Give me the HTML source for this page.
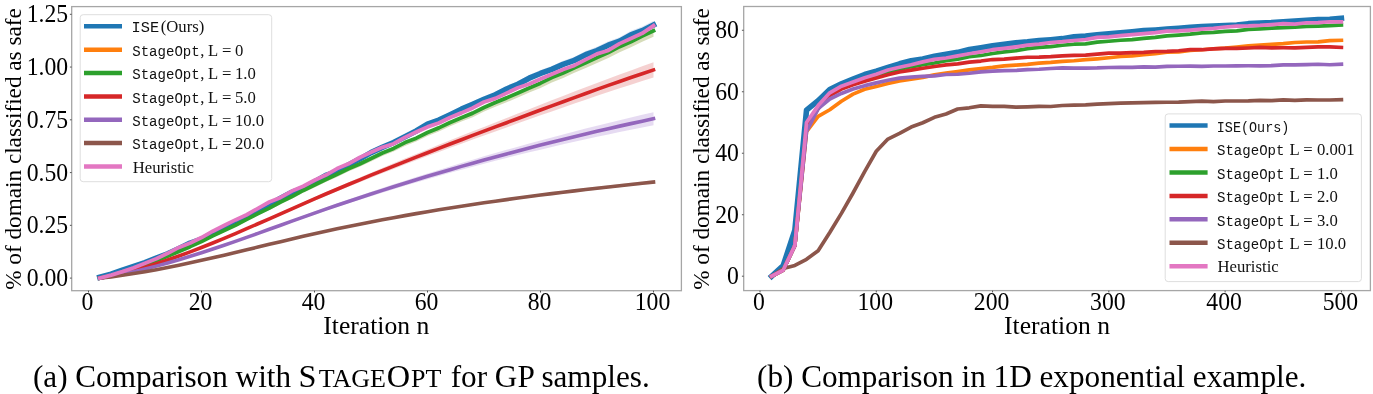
<!DOCTYPE html>
<html><head><meta charset="utf-8"><style>
html,body{margin:0;padding:0;background:#fff;}
body{width:1373px;height:394px;overflow:hidden;}
svg{display:block;will-change:transform;}
.wrap{}
.tk{font-family:"Liberation Serif",serif;font-size:25.2px;fill:#000;}
.al{font-family:"Liberation Serif",serif;font-size:25.6px;fill:#000;}
.yl{font-family:"Liberation Serif",serif;font-size:24px;fill:#000;}
.cap{font-family:"Liberation Serif",serif;font-size:32.3px;fill:#000;}
.mo{font-family:"Liberation Mono",monospace;font-size:15.3px;fill:#111;}
.se{font-family:"Liberation Serif",serif;font-size:16.7px;fill:#111;}

</style></head><body>
<div class="wrap"><svg width="1373" height="394" viewBox="0 0 1373 394">
<rect width="1373" height="394" fill="#fff"/>
<defs>
<clipPath id="cl"><rect x="71.7" y="6.6" width="609.6999999999999" height="284.09999999999997"/></clipPath>
<clipPath id="cr"><rect x="743.7" y="6.5" width="626.7" height="284.1"/></clipPath>
</defs>
<g clip-path="url(#cl)">
<path d="M99.80,278.11 L111.10,275.48 L122.40,272.29 L133.70,268.57 L145.00,265.04 L156.30,260.85 L167.60,256.25 L178.90,251.46 L190.20,246.64 L201.50,241.48 L212.80,235.91 L224.10,230.47 L235.40,225.27 L246.70,219.35 L258.00,213.58 L269.30,208.09 L280.60,202.00 L291.90,196.56 L303.20,190.43 L314.50,185.05 L325.80,179.57 L337.10,174.30 L348.40,168.82 L359.70,163.99 L371.00,158.52 L382.30,152.95 L393.60,148.43 L404.90,142.57 L416.20,138.15 L427.50,132.48 L438.80,127.87 L450.10,122.47 L461.40,117.66 L472.70,113.12 L484.00,107.46 L495.30,102.45 L506.60,97.88 L517.90,92.96 L529.20,87.95 L540.50,83.16 L551.80,77.61 L563.10,72.98 L574.40,67.77 L585.70,62.83 L597.00,57.62 L608.30,52.57 L619.60,46.66 L630.90,41.69 L642.20,36.01 L653.50,30.79 L653.50,36.70 L642.20,41.81 L630.90,47.36 L619.60,52.22 L608.30,58.01 L597.00,62.94 L585.70,68.03 L574.40,72.85 L563.10,77.94 L551.80,82.46 L540.50,87.89 L529.20,92.56 L517.90,97.45 L506.60,102.25 L495.30,106.71 L484.00,111.59 L472.70,117.14 L461.40,121.56 L450.10,126.25 L438.80,131.54 L427.50,136.02 L416.20,141.58 L404.90,145.88 L393.60,151.62 L382.30,156.02 L371.00,161.48 L359.70,166.83 L348.40,171.54 L337.10,176.90 L325.80,182.05 L314.50,187.41 L303.20,192.68 L291.90,198.69 L280.60,204.01 L269.30,209.98 L258.00,215.35 L246.70,221.00 L235.40,226.81 L224.10,231.89 L212.80,237.21 L201.50,242.66 L190.20,247.70 L178.90,252.40 L167.60,257.08 L156.30,261.56 L145.00,265.63 L133.70,269.04 L122.40,272.64 L111.10,275.71 L99.80,278.23 Z" fill="#cfd6ad" opacity="0.85"/>
<path d="M99.80,277.12 L111.10,273.92 L122.40,269.81 L133.70,266.07 L145.00,262.27 L156.30,257.60 L167.60,253.17 L178.90,247.87 L190.20,242.29 L201.50,238.31 L212.80,232.41 L224.10,227.41 L235.40,221.31 L246.70,216.15 L258.00,209.75 L269.30,203.50 L280.60,196.82 L291.90,190.73 L303.20,186.43 L314.50,180.32 L325.80,173.70 L337.10,169.76 L348.40,163.08 L359.70,157.06 L371.00,150.48 L382.30,145.17 L393.60,140.21 L404.90,134.50 L416.20,128.54 L427.50,121.59 L438.80,117.47 L450.10,112.09 L461.40,106.40 L472.70,101.46 L484.00,96.31 L495.30,91.71 L506.60,85.86 L517.90,81.01 L529.20,74.89 L540.50,70.11 L551.80,65.92 L563.10,60.83 L574.40,56.74 L585.70,51.04 L597.00,46.77 L608.30,41.33 L619.60,37.29 L630.90,30.83 L642.20,26.50 L653.50,20.87 L653.50,27.20 L642.20,32.70 L630.90,36.91 L619.60,43.24 L608.30,47.15 L597.00,52.47 L585.70,56.61 L574.40,62.18 L563.10,66.14 L551.80,71.12 L540.50,75.18 L529.20,79.83 L517.90,85.83 L506.60,90.55 L495.30,96.27 L484.00,100.74 L472.70,105.77 L461.40,110.58 L450.10,116.14 L438.80,121.40 L427.50,125.39 L416.20,132.22 L404.90,138.04 L393.60,143.63 L382.30,148.47 L371.00,153.64 L359.70,160.10 L348.40,166.00 L337.10,172.54 L325.80,176.36 L314.50,182.85 L303.20,188.84 L291.90,193.01 L280.60,198.98 L269.30,205.53 L258.00,211.65 L246.70,217.92 L235.40,222.96 L224.10,228.93 L212.80,233.81 L201.50,239.58 L190.20,243.43 L178.90,248.88 L167.60,254.05 L156.30,258.36 L145.00,262.90 L133.70,266.58 L122.40,270.19 L111.10,274.17 L99.80,277.25 Z" fill="#c9d6ee" opacity="0.6"/>
<path d="M99.80,278.09 L111.10,275.84 L122.40,273.22 L133.70,270.27 L145.00,267.01 L156.30,263.46 L167.60,259.66 L178.90,255.62 L190.20,251.36 L201.50,246.92 L212.80,242.31 L224.10,237.56 L235.40,232.68 L246.70,227.71 L258.00,222.67 L269.30,217.57 L280.60,212.45 L291.90,207.32 L303.20,202.21 L314.50,197.14 L325.80,192.13 L337.10,187.18 L348.40,182.29 L359.70,177.45 L371.00,172.66 L382.30,167.92 L393.60,163.23 L404.90,158.58 L416.20,153.96 L427.50,149.38 L438.80,144.83 L450.10,140.31 L461.40,135.81 L472.70,131.34 L484.00,126.88 L495.30,122.43 L506.60,118.00 L517.90,113.57 L529.20,109.15 L540.50,104.74 L551.80,100.34 L563.10,95.96 L574.40,91.61 L585.70,87.29 L597.00,83.01 L608.30,78.77 L619.60,74.58 L630.90,70.45 L642.20,66.37 L653.50,62.37 L653.50,77.56 L642.20,81.08 L630.90,84.68 L619.60,88.34 L608.30,92.07 L597.00,95.85 L585.70,99.67 L574.40,103.55 L563.10,107.46 L551.80,111.40 L540.50,115.37 L529.20,119.36 L517.90,123.37 L506.60,127.39 L495.30,131.42 L484.00,135.47 L472.70,139.54 L461.40,143.63 L450.10,147.75 L438.80,151.90 L427.50,156.09 L416.20,160.32 L404.90,164.59 L393.60,168.90 L382.30,173.26 L371.00,177.68 L359.70,182.14 L348.40,186.67 L337.10,191.26 L325.80,195.92 L314.50,200.64 L303.20,205.44 L291.90,210.28 L280.60,215.15 L269.30,220.02 L258.00,224.88 L246.70,229.69 L235.40,234.44 L224.10,239.11 L212.80,243.66 L201.50,248.08 L190.20,252.34 L178.90,256.43 L167.60,260.31 L156.30,263.97 L145.00,267.39 L133.70,270.53 L122.40,273.39 L111.10,275.93 L99.80,278.11 Z" fill="#f3c6c6" opacity="0.8"/>
<path d="M99.80,278.09 L111.10,276.25 L122.40,274.04 L133.70,271.57 L145.00,268.85 L156.30,265.91 L167.60,262.76 L178.90,259.42 L190.20,255.91 L201.50,252.26 L212.80,248.47 L224.10,244.57 L235.40,240.58 L246.70,236.51 L258.00,232.39 L269.30,228.23 L280.60,224.06 L291.90,219.88 L303.20,215.72 L314.50,211.61 L325.80,207.54 L337.10,203.53 L348.40,199.58 L359.70,195.69 L371.00,191.84 L382.30,188.06 L393.60,184.32 L404.90,180.64 L416.20,177.02 L427.50,173.44 L438.80,169.92 L450.10,166.45 L461.40,163.03 L472.70,159.66 L484.00,156.34 L495.30,153.07 L506.60,149.85 L517.90,146.68 L529.20,143.55 L540.50,140.47 L551.80,137.44 L563.10,134.46 L574.40,131.52 L585.70,128.62 L597.00,125.77 L608.30,122.97 L619.60,120.21 L630.90,117.49 L642.20,114.81 L653.50,112.18 L653.50,125.26 L642.20,127.48 L630.90,129.75 L619.60,132.06 L608.30,134.42 L597.00,136.83 L585.70,139.29 L574.40,141.80 L563.10,144.36 L551.80,146.97 L540.50,149.63 L529.20,152.34 L517.90,155.11 L506.60,157.93 L495.30,160.81 L484.00,163.73 L472.70,166.72 L461.40,169.76 L450.10,172.86 L438.80,176.01 L427.50,179.22 L416.20,182.49 L404.90,185.82 L393.60,189.21 L382.30,192.65 L371.00,196.16 L359.70,199.73 L348.40,203.36 L337.10,207.05 L325.80,210.81 L314.50,214.63 L303.20,218.51 L291.90,222.43 L280.60,226.39 L269.30,230.35 L258.00,234.30 L246.70,238.22 L235.40,242.10 L224.10,245.91 L212.80,249.63 L201.50,253.25 L190.20,256.75 L178.90,260.12 L167.60,263.32 L156.30,266.35 L145.00,269.18 L133.70,271.80 L122.40,274.18 L111.10,276.32 L99.80,278.11 Z" fill="#e3d7f1" opacity="0.9"/>
<path d="M99.80,278.07 L111.10,276.78 L122.40,275.21 L133.70,273.45 L145.00,271.53 L156.30,269.46 L167.60,267.26 L178.90,264.93 L190.20,262.50 L201.50,259.98 L212.80,257.38 L224.10,254.73 L235.40,252.02 L246.70,249.29 L258.00,246.54 L269.30,243.79 L280.60,241.05 L291.90,238.35 L303.20,235.68 L314.50,233.07 L325.80,230.54 L337.10,228.07 L348.40,225.68 L359.70,223.35 L371.00,221.09 L382.30,218.89 L393.60,216.75 L404.90,214.67 L416.20,212.65 L427.50,210.69 L438.80,208.78 L450.10,206.93 L461.40,205.12 L472.70,203.36 L484.00,201.65 L495.30,199.99 L506.60,198.37 L517.90,196.79 L529.20,195.25 L540.50,193.74 L551.80,192.27 L563.10,190.84 L574.40,189.44 L585.70,188.06 L597.00,186.72 L608.30,185.40 L619.60,184.11 L630.90,182.84 L642.20,181.59 L653.50,180.36 L653.50,183.73 L642.20,184.90 L630.90,186.08 L619.60,187.28 L608.30,188.51 L597.00,189.76 L585.70,191.04 L574.40,192.34 L563.10,193.68 L551.80,195.04 L540.50,196.44 L529.20,197.88 L517.90,199.35 L506.60,200.87 L495.30,202.42 L484.00,204.02 L472.70,205.66 L461.40,207.35 L450.10,209.09 L438.80,210.88 L427.50,212.72 L416.20,214.61 L404.90,216.56 L393.60,218.57 L382.30,220.64 L371.00,222.77 L359.70,224.97 L348.40,227.23 L337.10,229.56 L325.80,231.96 L314.50,234.43 L303.20,236.96 L291.90,239.56 L280.60,242.20 L269.30,244.87 L258.00,247.55 L246.70,250.24 L235.40,252.90 L224.10,255.54 L212.80,258.13 L201.50,260.66 L190.20,263.11 L178.90,265.47 L167.60,267.73 L156.30,269.87 L145.00,271.87 L133.70,273.72 L122.40,275.41 L111.10,276.92 L99.80,278.13 Z" fill="#e8d9d6" opacity="0.8"/>
<path d="M99.80,277.21 L111.10,274.09 L122.40,270.06 L133.70,266.41 L145.00,262.69 L156.30,258.11 L167.60,253.76 L178.90,248.54 L190.20,243.05 L201.50,239.15 L212.80,233.34 L224.10,228.42 L235.40,222.41 L246.70,217.33 L258.00,211.02 L269.30,204.85 L280.60,198.26 L291.90,192.25 L303.20,188.03 L314.50,182.00 L325.80,175.48 L337.10,171.61 L348.40,165.03 L359.70,159.09 L371.00,152.59 L382.30,147.37 L393.60,142.49 L404.90,136.86 L416.20,130.99 L427.50,124.12 L438.80,120.09 L450.10,114.79 L461.40,109.19 L472.70,104.33 L484.00,99.26 L495.30,94.75 L506.60,88.99 L517.90,84.22 L529.20,78.18 L540.50,73.49 L551.80,69.39 L563.10,64.37 L574.40,60.37 L585.70,54.75 L597.00,50.57 L608.30,45.21 L619.60,41.25 L630.90,34.89 L642.20,30.64 L653.50,25.09" fill="none" stroke="#1f77b4" stroke-width="5.6" stroke-linecap="square" stroke-linejoin="round"/>
<path d="M99.80,278.11 L111.10,275.48 L122.40,272.29 L133.70,268.57 L145.00,265.04 L156.30,260.85 L167.60,256.25 L178.90,251.46 L190.20,246.64 L201.50,241.48 L212.80,235.91 L224.10,230.47 L235.40,225.27 L246.70,219.35 L258.00,213.58 L269.30,208.09 L280.60,202.00 L291.90,196.56 L303.20,190.43 L314.50,185.05 L325.80,179.57 L337.10,174.30 L348.40,168.82 L359.70,163.99 L371.00,158.52 L382.30,152.95 L393.60,148.43 L404.90,142.57 L416.20,138.15 L427.50,132.48 L438.80,127.87 L450.10,122.47 L461.40,117.66 L472.70,113.12 L484.00,107.46 L495.30,102.45 L506.60,97.88 L517.90,92.96 L529.20,87.95 L540.50,83.16 L551.80,77.61 L563.10,72.98 L574.40,67.77 L585.70,62.83 L597.00,57.62 L608.30,52.57 L619.60,46.66 L630.90,41.69 L642.20,36.01 L653.50,30.79" fill="none" stroke="#2ca02c" stroke-width="3.8" stroke-linecap="square" stroke-linejoin="round"/>
<path d="M99.80,278.10 L111.10,275.89 L122.40,273.31 L133.70,270.40 L145.00,267.20 L156.30,263.72 L167.60,259.98 L178.90,256.02 L190.20,251.85 L201.50,247.50 L212.80,242.98 L224.10,238.33 L235.40,233.56 L246.70,228.70 L258.00,223.77 L269.30,218.80 L280.60,213.80 L291.90,208.80 L303.20,203.82 L314.50,198.89 L325.80,194.02 L337.10,189.22 L348.40,184.48 L359.70,179.80 L371.00,175.17 L382.30,170.59 L393.60,166.07 L404.90,161.58 L416.20,157.14 L427.50,152.74 L438.80,148.37 L450.10,144.03 L461.40,139.72 L472.70,135.44 L484.00,131.17 L495.30,126.93 L506.60,122.69 L517.90,118.47 L529.20,114.26 L540.50,110.06 L551.80,105.87 L563.10,101.71 L574.40,97.58 L585.70,93.48 L597.00,89.43 L608.30,85.42 L619.60,81.46 L630.90,77.56 L642.20,73.73 L653.50,69.97" fill="none" stroke="#d62728" stroke-width="3.6" stroke-linecap="square" stroke-linejoin="round"/>
<path d="M99.80,278.10 L111.10,276.29 L122.40,274.11 L133.70,271.68 L145.00,269.01 L156.30,266.13 L167.60,263.04 L178.90,259.77 L190.20,256.33 L201.50,252.75 L212.80,249.05 L224.10,245.24 L235.40,241.34 L246.70,237.37 L258.00,233.35 L269.30,229.29 L280.60,225.22 L291.90,221.16 L303.20,217.12 L314.50,213.12 L325.80,209.17 L337.10,205.29 L348.40,201.47 L359.70,197.71 L371.00,194.00 L382.30,190.35 L393.60,186.76 L404.90,183.23 L416.20,179.75 L427.50,176.33 L438.80,172.97 L450.10,169.65 L461.40,166.39 L472.70,163.19 L484.00,160.04 L495.30,156.94 L506.60,153.89 L517.90,150.89 L529.20,147.95 L540.50,145.05 L551.80,142.20 L563.10,139.41 L574.40,136.66 L585.70,133.96 L597.00,131.30 L608.30,128.69 L619.60,126.13 L630.90,123.62 L642.20,121.15 L653.50,118.72" fill="none" stroke="#9467bd" stroke-width="3.6" stroke-linecap="square" stroke-linejoin="round"/>
<path d="M99.80,278.10 L111.10,276.85 L122.40,275.31 L133.70,273.59 L145.00,271.70 L156.30,269.66 L167.60,267.49 L178.90,265.20 L190.20,262.80 L201.50,260.32 L212.80,257.76 L224.10,255.13 L235.40,252.46 L246.70,249.76 L258.00,247.05 L269.30,244.33 L280.60,241.63 L291.90,238.95 L303.20,236.32 L314.50,233.75 L325.80,231.25 L337.10,228.82 L348.40,226.45 L359.70,224.16 L371.00,221.93 L382.30,219.76 L393.60,217.66 L404.90,215.62 L416.20,213.63 L427.50,211.70 L438.80,209.83 L450.10,208.01 L461.40,206.23 L472.70,204.51 L484.00,202.84 L495.30,201.20 L506.60,199.62 L517.90,198.07 L529.20,196.56 L540.50,195.09 L551.80,193.66 L563.10,192.26 L574.40,190.89 L585.70,189.55 L597.00,188.24 L608.30,186.96 L619.60,185.70 L630.90,184.46 L642.20,183.24 L653.50,182.04" fill="none" stroke="#8c564b" stroke-width="3.6" stroke-linecap="square" stroke-linejoin="round"/>
<path d="M99.80,278.10 L111.10,275.06 L122.40,271.61 L133.70,267.77 L145.00,263.27 L156.30,258.74 L167.60,253.31 L178.90,247.42 L190.20,242.98 L201.50,237.56 L212.80,231.21 L224.10,225.56 L235.40,219.92 L246.70,214.73 L258.00,208.30 L269.30,201.98 L280.60,197.43 L291.90,191.08 L303.20,186.28 L314.50,180.26 L325.80,175.06 L337.10,168.57 L348.40,163.83 L359.70,157.52 L371.00,152.34 L382.30,147.35 L393.60,143.69 L404.90,137.35 L416.20,132.00 L427.50,126.91 L438.80,123.01 L450.10,117.43 L461.40,112.88 L472.70,107.93 L484.00,101.95 L495.30,98.35 L506.60,93.12 L517.90,87.81 L529.20,84.04 L540.50,79.04 L551.80,74.18 L563.10,69.44 L574.40,65.42 L585.70,59.67 L597.00,53.82 L608.30,50.49 L619.60,43.63 L630.90,38.58 L642.20,33.33 L653.50,25.70" fill="none" stroke="#e377c2" stroke-width="3.8" stroke-linecap="square" stroke-linejoin="round"/>
</g>
<g clip-path="url(#cr)">
<path d="M771.63,276.20 L783.26,265.44 L794.88,230.09 L806.51,110.20 L818.14,100.67 L829.77,89.45 L841.40,83.81 L853.02,79.13 L864.65,74.56 L876.28,71.21 L887.91,67.50 L899.54,63.82 L911.16,60.76 L922.79,58.94 L934.42,56.31 L946.05,54.21 L957.68,52.35 L969.30,49.59 L980.93,47.68 L992.56,45.76 L1004.19,44.38 L1015.82,42.75 L1027.44,41.81 L1039.07,40.61 L1050.70,39.75 L1062.33,38.65 L1073.96,36.84 L1085.58,36.10 L1097.21,34.73 L1108.84,33.67 L1120.47,32.71 L1132.10,31.76 L1143.72,30.57 L1155.35,29.94 L1166.98,29.09 L1178.61,28.25 L1190.24,27.21 L1201.86,26.59 L1213.49,25.94 L1225.12,25.45 L1236.75,24.94 L1248.38,23.66 L1260.00,22.95 L1271.63,22.53 L1283.26,21.68 L1294.89,20.95 L1306.52,20.29 L1318.14,19.62 L1329.77,19.33 L1341.40,18.23" fill="none" stroke="#1f77b4" stroke-width="5.6" stroke-linecap="square" stroke-linejoin="round"/>
<path d="M771.63,276.20 L783.26,270.05 L794.88,245.46 L806.51,131.72 L818.14,116.35 L829.77,109.74 L841.40,101.26 L853.02,94.13 L864.65,89.20 L876.28,86.46 L887.91,83.50 L899.54,80.89 L911.16,79.29 L922.79,77.36 L934.42,74.88 L946.05,73.16 L957.68,71.55 L969.30,69.88 L980.93,68.58 L992.56,67.38 L1004.19,65.90 L1015.82,65.11 L1027.44,64.41 L1039.07,63.06 L1050.70,62.36 L1062.33,61.35 L1073.96,60.74 L1085.58,59.69 L1097.21,58.79 L1108.84,57.77 L1120.47,56.52 L1132.10,55.79 L1143.72,54.54 L1155.35,53.56 L1166.98,52.16 L1178.61,52.01 L1190.24,50.47 L1201.86,49.73 L1213.49,48.76 L1225.12,48.18 L1236.75,47.03 L1248.38,45.86 L1260.00,45.22 L1271.63,44.35 L1283.26,43.63 L1294.89,42.49 L1306.52,42.01 L1318.14,41.79 L1329.77,40.69 L1341.40,40.29" fill="none" stroke="#ff7f0e" stroke-width="3.7" stroke-linecap="square" stroke-linejoin="round"/>
<path d="M771.63,276.20 L783.26,270.05 L794.88,245.46 L806.51,125.57 L818.14,107.13 L829.77,94.37 L841.40,87.73 L853.02,83.44 L864.65,79.57 L876.28,75.77 L887.91,72.34 L899.54,69.23 L911.16,66.81 L922.79,64.69 L934.42,62.99 L946.05,60.70 L957.68,59.11 L969.30,56.76 L980.93,55.49 L992.56,53.47 L1004.19,51.87 L1015.82,50.75 L1027.44,48.65 L1039.07,47.44 L1050.70,46.70 L1062.33,45.23 L1073.96,44.22 L1085.58,43.91 L1097.21,42.19 L1108.84,41.28 L1120.47,40.27 L1132.10,39.57 L1143.72,38.36 L1155.35,37.31 L1166.98,35.93 L1178.61,35.11 L1190.24,34.18 L1201.86,32.82 L1213.49,32.38 L1225.12,31.44 L1236.75,30.95 L1248.38,29.35 L1260.00,28.79 L1271.63,28.13 L1283.26,27.54 L1294.89,27.07 L1306.52,26.47 L1318.14,26.05 L1329.77,25.55 L1341.40,25.04" fill="none" stroke="#2ca02c" stroke-width="3.7" stroke-linecap="square" stroke-linejoin="round"/>
<path d="M771.63,276.20 L783.26,270.05 L794.88,245.46 L806.51,128.65 L818.14,108.67 L829.77,95.60 L841.40,89.14 L853.02,84.78 L864.65,81.20 L876.28,77.93 L887.91,74.69 L899.54,71.96 L911.16,70.15 L922.79,68.21 L934.42,66.50 L946.05,64.86 L957.68,63.84 L969.30,62.15 L980.93,61.04 L992.56,59.53 L1004.19,59.09 L1015.82,58.06 L1027.44,57.24 L1039.07,57.15 L1050.70,56.70 L1062.33,55.94 L1073.96,55.40 L1085.58,55.06 L1097.21,54.13 L1108.84,53.18 L1120.47,53.20 L1132.10,52.67 L1143.72,52.35 L1155.35,51.48 L1166.98,51.33 L1178.61,50.76 L1190.24,49.66 L1201.86,49.72 L1213.49,48.79 L1225.12,48.30 L1236.75,48.30 L1248.38,47.99 L1260.00,47.47 L1271.63,47.83 L1283.26,47.76 L1294.89,47.81 L1306.52,47.35 L1318.14,46.90 L1329.77,46.97 L1341.40,47.42" fill="none" stroke="#d62728" stroke-width="3.7" stroke-linecap="square" stroke-linejoin="round"/>
<path d="M771.63,276.20 L783.26,270.05 L794.88,245.46 L806.51,131.72 L818.14,108.67 L829.77,98.96 L841.40,93.40 L853.02,89.08 L864.65,85.65 L876.28,82.84 L887.91,80.27 L899.54,78.14 L911.16,77.18 L922.79,76.28 L934.42,75.83 L946.05,74.51 L957.68,74.27 L969.30,73.27 L980.93,71.85 L992.56,71.11 L1004.19,70.68 L1015.82,70.48 L1027.44,69.62 L1039.07,69.23 L1050.70,68.50 L1062.33,67.79 L1073.96,68.03 L1085.58,68.05 L1097.21,67.95 L1108.84,67.49 L1120.47,67.35 L1132.10,67.42 L1143.72,66.94 L1155.35,67.10 L1166.98,66.39 L1178.61,66.26 L1190.24,66.12 L1201.86,66.36 L1213.49,65.98 L1225.12,66.00 L1236.75,65.91 L1248.38,65.73 L1260.00,65.79 L1271.63,65.65 L1283.26,64.91 L1294.89,64.96 L1306.52,64.66 L1318.14,64.27 L1329.77,64.73 L1341.40,64.29" fill="none" stroke="#9467bd" stroke-width="3.7" stroke-linecap="square" stroke-linejoin="round"/>
<path d="M771.63,276.20 L783.26,268.51 L794.88,265.44 L806.51,259.29 L818.14,250.69 L829.77,232.55 L841.40,213.41 L853.02,193.00 L864.65,171.57 L876.28,151.25 L887.91,139.08 L899.54,133.42 L911.16,127.09 L922.79,122.79 L934.42,117.35 L946.05,113.93 L957.68,108.97 L969.30,107.79 L980.93,105.82 L992.56,106.37 L1004.19,106.41 L1015.82,107.20 L1027.44,106.88 L1039.07,106.33 L1050.70,106.52 L1062.33,105.48 L1073.96,105.12 L1085.58,104.89 L1097.21,104.19 L1108.84,103.65 L1120.47,103.11 L1132.10,102.90 L1143.72,102.70 L1155.35,102.32 L1166.98,102.26 L1178.61,102.10 L1190.24,101.58 L1201.86,101.15 L1213.49,101.56 L1225.12,101.01 L1236.75,101.00 L1248.38,100.93 L1260.00,100.33 L1271.63,100.53 L1283.26,99.90 L1294.89,100.34 L1306.52,99.94 L1318.14,99.99 L1329.77,100.02 L1341.40,99.61" fill="none" stroke="#8c564b" stroke-width="3.7" stroke-linecap="square" stroke-linejoin="round"/>
<path d="M771.63,276.20 L783.26,270.05 L794.88,245.46 L806.51,122.50 L818.14,105.59 L829.77,92.84 L841.40,86.15 L853.02,81.99 L864.65,77.75 L876.28,74.15 L887.91,69.95 L899.54,67.24 L911.16,64.74 L922.79,61.91 L934.42,59.42 L946.05,57.99 L957.68,55.85 L969.30,53.74 L980.93,51.89 L992.56,49.70 L1004.19,48.35 L1015.82,46.83 L1027.44,45.11 L1039.07,44.11 L1050.70,42.54 L1062.33,41.65 L1073.96,40.49 L1085.58,39.47 L1097.21,37.42 L1108.84,36.85 L1120.47,35.65 L1132.10,34.70 L1143.72,33.64 L1155.35,32.66 L1166.98,31.21 L1178.61,30.96 L1190.24,30.14 L1201.86,29.10 L1213.49,28.31 L1225.12,26.99 L1236.75,26.22 L1248.38,25.97 L1260.00,25.45 L1271.63,24.59 L1283.26,23.59 L1294.89,24.09 L1306.52,22.77 L1318.14,22.71 L1329.77,21.78 L1341.40,21.94" fill="none" stroke="#e377c2" stroke-width="3.7" stroke-linecap="square" stroke-linejoin="round"/>
</g>
<rect x="71.7" y="6.6" width="609.6999999999999" height="284.09999999999997" fill="none" stroke="#a6a6a6" stroke-width="1.3"/>
<rect x="743.7" y="6.5" width="626.7" height="284.1" fill="none" stroke="#a6a6a6" stroke-width="1.3"/>
<line x1="69.9" y1="278.10" x2="71.7" y2="278.10" stroke="#555" stroke-width="1"/>
<text transform="translate(68.2,286.20) scale(0.94,1)" text-anchor="end" class="tk">0.00</text>
<line x1="69.9" y1="225.34" x2="71.7" y2="225.34" stroke="#555" stroke-width="1"/>
<text transform="translate(68.2,233.44) scale(0.94,1)" text-anchor="end" class="tk">0.25</text>
<line x1="69.9" y1="172.58" x2="71.7" y2="172.58" stroke="#555" stroke-width="1"/>
<text transform="translate(68.2,180.68) scale(0.94,1)" text-anchor="end" class="tk">0.50</text>
<line x1="69.9" y1="119.82" x2="71.7" y2="119.82" stroke="#555" stroke-width="1"/>
<text transform="translate(68.2,127.92) scale(0.94,1)" text-anchor="end" class="tk">0.75</text>
<line x1="69.9" y1="67.06" x2="71.7" y2="67.06" stroke="#555" stroke-width="1"/>
<text transform="translate(68.2,75.16) scale(0.94,1)" text-anchor="end" class="tk">1.00</text>
<line x1="69.9" y1="14.30" x2="71.7" y2="14.30" stroke="#555" stroke-width="1"/>
<text transform="translate(68.2,22.40) scale(0.94,1)" text-anchor="end" class="tk">1.25</text>
<line x1="88.50" y1="290.7" x2="88.50" y2="292.5" stroke="#555" stroke-width="1"/>
<text transform="translate(87.50,309.9) scale(0.94,1)" text-anchor="middle" class="tk">0</text>
<line x1="201.50" y1="290.7" x2="201.50" y2="292.5" stroke="#555" stroke-width="1"/>
<text transform="translate(200.50,309.9) scale(0.94,1)" text-anchor="middle" class="tk">20</text>
<line x1="314.50" y1="290.7" x2="314.50" y2="292.5" stroke="#555" stroke-width="1"/>
<text transform="translate(313.50,309.9) scale(0.94,1)" text-anchor="middle" class="tk">40</text>
<line x1="427.50" y1="290.7" x2="427.50" y2="292.5" stroke="#555" stroke-width="1"/>
<text transform="translate(426.50,309.9) scale(0.94,1)" text-anchor="middle" class="tk">60</text>
<line x1="540.50" y1="290.7" x2="540.50" y2="292.5" stroke="#555" stroke-width="1"/>
<text transform="translate(539.50,309.9) scale(0.94,1)" text-anchor="middle" class="tk">80</text>
<line x1="653.50" y1="290.7" x2="653.50" y2="292.5" stroke="#555" stroke-width="1"/>
<text transform="translate(652.50,309.9) scale(0.94,1)" text-anchor="middle" class="tk">100</text>
<line x1="741.9000000000001" y1="276.20" x2="743.7" y2="276.20" stroke="#555" stroke-width="1"/>
<text transform="translate(738.8,284.30) scale(0.94,1)" text-anchor="end" class="tk">0</text>
<line x1="741.9000000000001" y1="214.72" x2="743.7" y2="214.72" stroke="#555" stroke-width="1"/>
<text transform="translate(738.8,222.82) scale(0.94,1)" text-anchor="end" class="tk">20</text>
<line x1="741.9000000000001" y1="153.24" x2="743.7" y2="153.24" stroke="#555" stroke-width="1"/>
<text transform="translate(738.8,161.34) scale(0.94,1)" text-anchor="end" class="tk">40</text>
<line x1="741.9000000000001" y1="91.76" x2="743.7" y2="91.76" stroke="#555" stroke-width="1"/>
<text transform="translate(738.8,99.86) scale(0.94,1)" text-anchor="end" class="tk">60</text>
<line x1="741.9000000000001" y1="30.28" x2="743.7" y2="30.28" stroke="#555" stroke-width="1"/>
<text transform="translate(738.8,38.38) scale(0.94,1)" text-anchor="end" class="tk">80</text>
<line x1="760.00" y1="290.6" x2="760.00" y2="292.40000000000003" stroke="#555" stroke-width="1"/>
<text transform="translate(759.00,309.9) scale(0.94,1)" text-anchor="middle" class="tk">0</text>
<line x1="876.28" y1="290.6" x2="876.28" y2="292.40000000000003" stroke="#555" stroke-width="1"/>
<text transform="translate(875.28,309.9) scale(0.94,1)" text-anchor="middle" class="tk">100</text>
<line x1="992.56" y1="290.6" x2="992.56" y2="292.40000000000003" stroke="#555" stroke-width="1"/>
<text transform="translate(991.56,309.9) scale(0.94,1)" text-anchor="middle" class="tk">200</text>
<line x1="1108.84" y1="290.6" x2="1108.84" y2="292.40000000000003" stroke="#555" stroke-width="1"/>
<text transform="translate(1107.84,309.9) scale(0.94,1)" text-anchor="middle" class="tk">300</text>
<line x1="1225.12" y1="290.6" x2="1225.12" y2="292.40000000000003" stroke="#555" stroke-width="1"/>
<text transform="translate(1224.12,309.9) scale(0.94,1)" text-anchor="middle" class="tk">400</text>
<line x1="1341.40" y1="290.6" x2="1341.40" y2="292.40000000000003" stroke="#555" stroke-width="1"/>
<text transform="translate(1340.40,309.9) scale(0.94,1)" text-anchor="middle" class="tk">500</text>
<rect x="80.2" y="14.7" width="191.5" height="167.0" rx="3" ry="3" fill="#fff" fill-opacity="0.85" stroke="#dedede" stroke-width="1"/>
<line x1="84" y1="26.2" x2="122" y2="26.2" stroke="#1f77b4" stroke-width="4.5"/>
<text class="mo" x="131.6" y="32.40">ISE</text>
<text class="se" x="160.7" y="32.40">(Ours)</text>
<line x1="84" y1="49.7" x2="122" y2="49.7" stroke="#ff7f0e" stroke-width="4.5"/>
<text class="mo" x="132.2" y="55.90" textLength="67.5" lengthAdjust="spacingAndGlyphs">StageOpt</text>
<text class="se" x="200.2" y="55.90">,</text>
<text class="se" x="207.9" y="55.90">L</text>
<text class="se" x="221.9" y="55.90">=</text>
<text class="se" x="234.9" y="55.90">0</text>
<line x1="84" y1="73.1" x2="122" y2="73.1" stroke="#2ca02c" stroke-width="4.5"/>
<text class="mo" x="132.2" y="79.30" textLength="67.5" lengthAdjust="spacingAndGlyphs">StageOpt</text>
<text class="se" x="200.2" y="79.30">,</text>
<text class="se" x="207.9" y="79.30">L</text>
<text class="se" x="221.9" y="79.30">=</text>
<text class="se" x="234.9" y="79.30">1.0</text>
<line x1="84" y1="96.5" x2="122" y2="96.5" stroke="#d62728" stroke-width="4.5"/>
<text class="mo" x="132.2" y="102.70" textLength="67.5" lengthAdjust="spacingAndGlyphs">StageOpt</text>
<text class="se" x="200.2" y="102.70">,</text>
<text class="se" x="207.9" y="102.70">L</text>
<text class="se" x="221.9" y="102.70">=</text>
<text class="se" x="234.9" y="102.70">5.0</text>
<line x1="84" y1="119.8" x2="122" y2="119.8" stroke="#9467bd" stroke-width="4.5"/>
<text class="mo" x="132.2" y="126.00" textLength="67.5" lengthAdjust="spacingAndGlyphs">StageOpt</text>
<text class="se" x="200.2" y="126.00">,</text>
<text class="se" x="207.9" y="126.00">L</text>
<text class="se" x="221.9" y="126.00">=</text>
<text class="se" x="234.9" y="126.00">10.0</text>
<line x1="84" y1="143.1" x2="122" y2="143.1" stroke="#8c564b" stroke-width="4.5"/>
<text class="mo" x="132.2" y="149.30" textLength="67.5" lengthAdjust="spacingAndGlyphs">StageOpt</text>
<text class="se" x="200.2" y="149.30">,</text>
<text class="se" x="207.9" y="149.30">L</text>
<text class="se" x="221.9" y="149.30">=</text>
<text class="se" x="234.9" y="149.30">20.0</text>
<line x1="84" y1="166.5" x2="122" y2="166.5" stroke="#e377c2" stroke-width="4.5"/>
<text class="se" x="132.7" y="172.70">Heuristic</text>
<rect x="1165.2" y="113.9" width="196.20000000000005" height="167.70000000000002" rx="3" ry="3" fill="#fff" fill-opacity="0.85" stroke="#dedede" stroke-width="1"/>
<line x1="1169.5" y1="125.6" x2="1207.6" y2="125.6" stroke="#1f77b4" stroke-width="4.5"/>
<text class="mo" x="1216.8" y="131.80" textLength="72.5" lengthAdjust="spacingAndGlyphs">ISE(Ours)</text>
<line x1="1169.5" y1="149.03" x2="1207.6" y2="149.03" stroke="#ff7f0e" stroke-width="4.5"/>
<text class="mo" x="1217.0" y="155.23" textLength="67.5" lengthAdjust="spacingAndGlyphs">StageOpt</text>
<text class="se" x="1289.5" y="155.23">L</text>
<text class="se" x="1303.2" y="155.23">=</text>
<text class="se" x="1317.0" y="155.23">0.001</text>
<line x1="1169.5" y1="172.46" x2="1207.6" y2="172.46" stroke="#2ca02c" stroke-width="4.5"/>
<text class="mo" x="1217.0" y="178.66" textLength="67.5" lengthAdjust="spacingAndGlyphs">StageOpt</text>
<text class="se" x="1289.5" y="178.66">L</text>
<text class="se" x="1303.2" y="178.66">=</text>
<text class="se" x="1317.0" y="178.66">1.0</text>
<line x1="1169.5" y1="195.89" x2="1207.6" y2="195.89" stroke="#d62728" stroke-width="4.5"/>
<text class="mo" x="1217.0" y="202.09" textLength="67.5" lengthAdjust="spacingAndGlyphs">StageOpt</text>
<text class="se" x="1289.5" y="202.09">L</text>
<text class="se" x="1303.2" y="202.09">=</text>
<text class="se" x="1317.0" y="202.09">2.0</text>
<line x1="1169.5" y1="219.32" x2="1207.6" y2="219.32" stroke="#9467bd" stroke-width="4.5"/>
<text class="mo" x="1217.0" y="225.52" textLength="67.5" lengthAdjust="spacingAndGlyphs">StageOpt</text>
<text class="se" x="1289.5" y="225.52">L</text>
<text class="se" x="1303.2" y="225.52">=</text>
<text class="se" x="1317.0" y="225.52">3.0</text>
<line x1="1169.5" y1="242.75" x2="1207.6" y2="242.75" stroke="#8c564b" stroke-width="4.5"/>
<text class="mo" x="1217.0" y="248.95" textLength="67.5" lengthAdjust="spacingAndGlyphs">StageOpt</text>
<text class="se" x="1289.5" y="248.95">L</text>
<text class="se" x="1303.2" y="248.95">=</text>
<text class="se" x="1317.0" y="248.95">10.0</text>
<line x1="1169.5" y1="266.18" x2="1207.6" y2="266.18" stroke="#e377c2" stroke-width="4.5"/>
<text class="se" x="1217.5" y="272.38">Heuristic</text>
<text class="al" x="376.3" y="333.9" text-anchor="middle">Iteration n</text>
<text class="al" x="1057" y="333.9" text-anchor="middle">Iteration n</text>
<text class="yl" transform="translate(20.6,149) rotate(-90)" text-anchor="middle" textLength="281.5" lengthAdjust="spacingAndGlyphs">% of domain classified as safe</text>
<text class="yl" transform="translate(709,149) rotate(-90)" text-anchor="middle" textLength="281.5" lengthAdjust="spacingAndGlyphs">% of domain classified as safe</text>
<text class="cap" x="32.9" y="386.5" textLength="258.2" lengthAdjust="spacingAndGlyphs">(a) Comparison with</text>
<text class="cap" x="298.6" y="386.5" style="font-size:32.3px">S</text>
<text class="cap" x="318.7" y="386.5" style="font-size:26px">TAGE</text>
<text class="cap" x="386.8" y="386.5" style="font-size:32.3px">O</text>
<text class="cap" x="411.1" y="386.5" style="font-size:26px">PT</text>
<text class="cap" x="450.7" y="386.5" textLength="199.0" lengthAdjust="spacingAndGlyphs">for GP samples.</text>
<text class="cap" x="757.0" y="386.5" textLength="549.3" lengthAdjust="spacingAndGlyphs">(b) Comparison in 1D exponential example.</text>
</svg></div>
</body></html>
